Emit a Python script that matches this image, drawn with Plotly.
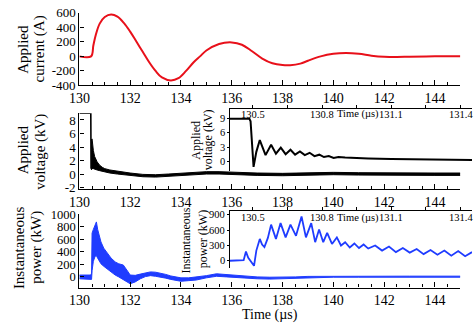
import plotly.graph_objects as go

W, H = 474, 330
def px(x): return x / W
def py(y): return 1 - y / H

FONT = "Liberation Serif, Times New Roman, Times, serif"
RED = "#e8101a"
BLUE = "#1f3cff"
BLACK = "#000000"

# ---------------- data ----------------
# Applied current (A)
cur_t = [130.0, 130.46, 130.55, 130.65, 130.8, 131.0, 131.25, 131.5, 131.75, 132.0, 132.25, 132.5,
         132.75, 133.0, 133.25, 133.6, 133.9, 134.2, 134.5, 134.75, 135.0, 135.5, 136.0, 136.4,
         136.8, 137.2, 137.6, 138.0, 138.3, 138.7, 139.0, 139.5, 140.0, 140.5, 141.0, 141.5,
         142.0, 142.5, 143.0, 144.0, 145.0]
cur_a = [0, 0, 150, 300, 450, 540, 575, 545, 460, 340, 200, 60,
         -80, -200, -290, -330, -300, -200, -80, 0, 80, 170, 192, 160,
         70, -30, -95, -120, -122, -100, -60, 0, 35, 45, 35, 10,
         -5, -8, -5, 0, 0]

# Applied voltage (kV), main panel: initial plateau and drop
vstep_t = [130.0, 130.45, 130.46]
vstep_v = [9, 9, 0.8]
# noisy band after the drop
vband_t = [130.46, 130.5, 130.55, 130.6, 130.7, 130.8, 130.9, 131.0, 131.2, 131.5, 132.0, 132.5,
           133.0, 133.5, 134.0, 134.5, 135.0, 135.5, 136.0, 137.0, 138.0, 139.0, 140.0, 141.0,
           142.0, 143.0, 144.0, 145.0]
vband_lo = [0.6, 0.8, 0.8, 0.7, 0.6, 0.5, 0.4, 0.3, 0.15, 0.0, -0.25, -0.4,
            -0.45, -0.35, -0.2, -0.05, 0.0, 0.0, -0.1, -0.2, -0.25, -0.15, -0.1, -0.15,
            -0.2, -0.2, -0.2, -0.2]
vband_hi = [5.0, 5.2, 3.5, 2.6, 1.8, 1.3, 1.0, 0.8, 0.6, 0.4, 0.15, -0.05,
            -0.1, 0.0, 0.15, 0.3, 0.35, 0.35, 0.25, 0.15, 0.1, 0.2, 0.25, 0.2,
            0.15, 0.15, 0.15, 0.15]

# Applied voltage inset (kV)
vin_t = [130.40, 130.485, 130.49, 130.495, 130.503, 130.515, 130.53, 130.555, 130.579, 130.60,
         130.621, 130.642, 130.663, 130.683, 130.704, 130.725, 130.746, 130.767, 130.788, 130.808,
         130.829, 130.85, 130.871, 130.9, 130.95, 131.0, 131.1, 131.2, 131.3, 131.4, 131.45]
vin_v = [9, 9, 8.5, 3.5, -1.2, 2.0, 4.5, 1.3, 3.5, 1.6,
         2.9, 1.5, 2.45, 1.4, 2.1, 1.3, 1.8, 1.1, 1.4, 0.9,
         1.1, 0.7, 0.9, 0.8, 0.65, 0.6, 0.5, 0.4, 0.3, 0.25, 0.25]

# Instantaneous power (kW), main panel band
pband_t = [130.0, 130.45, 130.48, 130.5, 130.55, 130.62, 130.67, 130.72, 130.77, 130.85, 130.96,
           131.05, 131.15, 131.25, 131.41, 131.55, 131.73, 131.85, 131.92, 132.0, 132.2, 132.4,
           132.6, 132.8, 133.0, 133.2, 133.4, 133.6, 133.8, 134.0, 134.3, 134.6, 135.0, 135.4,
           135.8, 136.2, 136.6, 137.0, 137.5, 138.0, 138.5, 139.0, 140.0, 141.0, 142.0, 143.0,
           144.0, 145.0]
pband_lo = [-30, -30, -40, 100, 250, 330, 340, 300, 260, 210, 170,
            140, 110, 80, 30, 0, -40, -70, -90, -110, -80, -30,
            5, 20, 10, 0, -20, -40, -60, -70, -60, -50, -15, 10,
            0, -10, -25, -30, -35, -30, -20, -10, -5, -5, -5, -5,
            -5, -5]
pband_hi = [30, 30, 60, 700, 760, 820, 880, 760, 680, 560, 460,
            410, 360, 300, 240, 210, 190, 130, 80, 30, 25, 45,
            65, 80, 75, 60, 40, 15, -5, -15, -15, -5, 20, 50,
            35, 25, 10, 0, -5, -5, 0, 8, 12, 12, 12, 12,
            12, 12]

# Instantaneous power inset (kW)
pin_t = [130.40, 130.46, 130.47, 130.48, 130.505, 130.515, 130.53, 130.54, 130.55, 130.565,
         130.579, 130.60, 130.62, 130.642, 130.663, 130.687, 130.711, 130.73, 130.753, 130.77,
         130.787, 130.805, 130.822, 130.843, 130.864, 130.882, 130.9, 130.92, 130.94, 130.96,
         130.98, 131.0, 131.03, 131.06, 131.09, 131.12, 131.15, 131.18, 131.21, 131.24,
         131.27, 131.3, 131.33, 131.36, 131.39, 131.42, 131.45]
pin_p = [0, 10, 180, 60, -100, 200, 430, 320, 270, 450,
         710, 430, 740, 460, 710, 490, 870, 460, 740, 365,
         615, 365, 550, 330, 460, 300, 365, 260, 340, 250,
         320, 240, 300, 200, 280, 170, 250, 160, 230, 130,
         210, 120, 200, 100, 190, 90, 170]

main_ticks = [130, 132, 134, 136, 138, 140, 142, 144]
cur_ticks = [-400, -200, 0, 200, 400, 600]
volt_ticks = [-2, 0, 2, 4, 6, 8]
pow_ticks = [0, 200, 400, 600, 800, 1000]
vin_ticks = [0, 3, 6, 9]
pin_ticks = [0, 300, 600, 900]
inset_ticks = [130.5, 130.65, 130.8, 130.95, 131.1, 131.25, 131.4]
inset_labels = ["130.5", "", "130.8", "", "131.1", "", "131.4"]

fig = go.Figure()

fig.add_trace(go.Scatter(x=cur_t, y=cur_a, mode="lines", line=dict(color=RED, width=2, shape="spline"),
                         xaxis="x", yaxis="y", showlegend=False))

fig.add_trace(go.Scatter(x=vstep_t, y=vstep_v, mode="lines", line=dict(color=BLACK, width=1.6),
                         xaxis="x2", yaxis="y2", showlegend=False))
fig.add_trace(go.Scatter(x=vband_t, y=vband_lo, mode="lines", line=dict(color=BLACK, width=1),
                         xaxis="x2", yaxis="y2", showlegend=False))
fig.add_trace(go.Scatter(x=vband_t, y=vband_hi, mode="lines", line=dict(color=BLACK, width=1),
                         fill="tonexty", fillcolor=BLACK, xaxis="x2", yaxis="y2", showlegend=False))

fig.add_trace(go.Scatter(x=pband_t, y=pband_lo, mode="lines", line=dict(color=BLUE, width=1),
                         xaxis="x3", yaxis="y3", showlegend=False))
fig.add_trace(go.Scatter(x=pband_t, y=pband_hi, mode="lines", line=dict(color=BLUE, width=1),
                         fill="tonexty", fillcolor=BLUE, xaxis="x3", yaxis="y3", showlegend=False))

fig.add_trace(go.Scatter(x=vin_t, y=vin_v, mode="lines", line=dict(color=BLACK, width=2),
                         xaxis="x4", yaxis="y4", showlegend=False))
fig.add_trace(go.Scatter(x=pin_t, y=pin_p, mode="lines", line=dict(color=BLUE, width=1.8),
                         xaxis="x5", yaxis="y5", showlegend=False))

xtickfont = dict(family=FONT, size=14, color=BLACK)
ytickfont = dict(family=FONT, size=13, color=BLACK)
ptickfont = dict(family=FONT, size=12.5, color=BLACK)
smallfont = dict(family=FONT, size=10.5, color=BLACK)

def main_x(anchor):
    return dict(domain=[px(70), px(460)], range=[130, 145], anchor=anchor,
                showline=True, linecolor=BLACK, linewidth=1.3, ticks="inside", ticklen=5,
                tickcolor=BLACK, tickvals=main_ticks, ticktext=[str(v) for v in main_ticks],
                minor=dict(dtick=0.5, tick0=130, ticks="inside", ticklen=3, tickcolor=BLACK),
                showgrid=False, zeroline=False, tickfont=xtickfont)

def main_y(anchor, dom, rng, vals, font):
    return dict(domain=dom, range=rng, anchor=anchor, showline=True, linecolor=BLACK,
                linewidth=1.3, ticks="inside", ticklen=4, tickcolor=BLACK,
                tickvals=vals, ticktext=[str(v) for v in vals],
                showgrid=False, zeroline=False, tickfont=font)

def inset_x(anchor):
    return dict(domain=[px(224), px(472)], range=[130.4, 131.45], anchor=anchor, side="top",
                showline=True, linecolor=BLACK, linewidth=1.1, ticks="outside", ticklen=3,
                tickcolor=BLACK, tickvals=inset_ticks, showticklabels=False,
                showgrid=False, zeroline=False)

def inset_y(anchor, dom, rng, vals):
    return dict(domain=dom, range=rng, anchor=anchor, showline=True, linecolor=BLACK,
                linewidth=1.1, ticks="outside", ticklen=2, tickcolor=BLACK,
                tickvals=vals, showticklabels=False,
                showgrid=False, zeroline=False)

fig.update_layout(
    width=W, height=H, margin=dict(l=0, r=0, t=0, b=0),
    paper_bgcolor="white", plot_bgcolor="rgba(0,0,0,0)",
    xaxis=main_x("y"),
    xaxis2=main_x("y2"),
    xaxis3=main_x("y3"),
    yaxis=main_y("x", [py(83), py(7)], [-400, 600], cur_ticks, ytickfont),
    yaxis2=main_y("x2", [py(191), py(112)], [-2.2, 9], volt_ticks, ytickfont),
    yaxis3=main_y("x3", [py(294), py(217)], [-170, 1010], pow_ticks, ptickfont),
    xaxis4=inset_x("y4"),
    yaxis4=inset_y("x4", [py(172), py(108)], [-2, 11], vin_ticks),
    xaxis5=inset_x("y5"),
    yaxis5=inset_y("x5", [py(274), py(214)], [-150, 980], pin_ticks),
)

def ann(text, x, y, size, angle=-90):
    fig.add_annotation(text=text, x=px(x), y=py(y), xref="paper", yref="paper",
                       showarrow=False, textangle=angle, xanchor="center", yanchor="middle",
                       font=dict(family=FONT, size=size, color=BLACK))

ann("Applied", 12, 45, 15)
ann("current (A)", 29, 45, 15)
ann("Applied", 12, 150, 15)
ann("voltage (kV)", 30, 152, 15)
ann("Instantaneous", 8, 252, 15)
ann("power (kW)", 26, 252, 15)
ann("Applied", 189, 140, 12)
ann("voltage (kV)", 202, 140, 12)
ann("Instantaneous", 179, 245, 12)
ann("power (kW)", 196, 243, 12)
ann("Time (\u00b5s)", 355, 113, 10.5, 0)
ann("Time (\u00b5s)", 355, 221, 10.5, 0)
ann("Time (\u00b5s)", 265, 323, 14, 0)

# inset x tick labels, placed at their data positions just under the top axis
for xa, ypix in (("x4", 113), ("x5", 221)):
    for v, t in zip(inset_ticks, inset_labels):
        if t:
            fig.add_annotation(text=t, x=v, y=py(ypix), xref=xa, yref="paper", showarrow=False,
                               xanchor="center", yanchor="middle", font=smallfont)

# inset y tick labels, at their data positions left of the inset axis
for ya, vals in (("y4", vin_ticks), ("y5", pin_ticks)):
    for v in vals:
        fig.add_annotation(text=str(v), x=px(221), y=v, xref="paper", yref=ya, showarrow=False,
                           xanchor="right", yanchor="middle", font=smallfont)

fig.write_html("out.html")
